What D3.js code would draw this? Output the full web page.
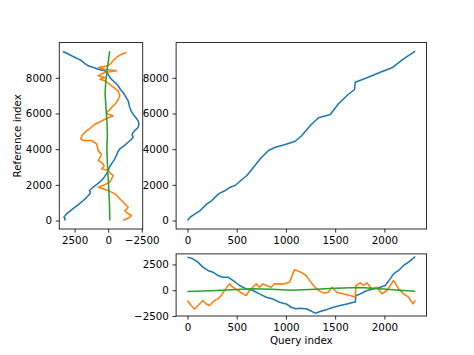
<!DOCTYPE html>
<html>
<head>
<meta charset="utf-8">
<script src="https://cdn.jsdelivr.net/npm/d3@7"></script>
<style>
  html, body { margin: 0; padding: 0; background: #fff; }
  svg { display: block; }
  text { font-family: "DejaVu Sans", sans-serif; fill: #000; }
</style>
</head>
<body>
<svg id="chart" width="474" height="355"></svg>
<script>
// ---------------- DATA ----------------
const queryLength = 2314;
const refLength = 9500;

// Reference signal (left panel): index and value pairs per channel
const refBlueIdx = [0, 90, 190, 374, 560, 748, 935, 1121, 1300, 1496, 1587, 1682, 1867, 2050, 2243, 2430, 2618, 2800, 3000, 3179, 3400, 3645, 3830, 4020, 4200, 4390, 4530, 4671, 4800, 4934, 5100, 5215, 5400, 5590, 5780, 5960, 6150, 6336, 6520, 6711, 6950, 7177, 7360, 7552, 7740, 7923, 8050, 8203, 8393, 8483, 8580, 8674, 8810, 8954, 9100, 9234, 9360, 9476];
const refBlueVal = [3250, 3200, 3300, 3094, 2800, 2473, 2150, 1855, 1600, 1360, 1335, 1400, 1113, 800, 495, 300, 124, 0, -100, -245, -450, -618, -700, -866, -1200, -1484, -1700, -1855, -1780, -1855, -2050, -2226, -2290, -2226, -2050, -1855, -1700, -1610, -1550, -1484, -1300, -1113, -900, -742, -500, -245, -100, 0, 245, 742, 1100, 1484, 1750, 1981, 2350, 2723, 3050, 3361];

const refOrangeIdx = [0, 140, 280, 420, 561, 650, 748, 840, 936, 1080, 1217, 1360, 1496, 1590, 1682, 1780, 1867, 2000, 2147, 2330, 2523, 2660, 2804, 2899, 3040, 3179, 3270, 3364, 3550, 3740, 3830, 3925, 4110, 4300, 4486, 4486, 4580, 4671, 4749, 4890, 5029, 5200, 5400, 5540, 5680, 5870, 5960, 6056, 6200, 6336, 6480, 6616, 6800, 6992, 7130, 7272, 7410, 7552, 7700, 7833, 7923, 8018, 8113, 8210, 8298, 8393, 8483, 8580, 8674, 8820, 8954, 9140, 9270, 9350, 9420];
const refOrangeVal = [-1113, -1500, -1731, -1400, -1236, -1400, -1484, -1350, -1236, -1050, -866, -700, -495, -250, 0, 400, 742, 300, -124, -250, -371, -150, 0, 495, 300, 371, 550, 742, 600, 495, 650, 742, 800, 866, 1236, 1855, 2050, 1979, 1979, 1800, 1608, 1300, 989, 600, 245, -371, 0, 124, -100, -245, -450, -618, -750, -866, -800, -742, -500, -245, 0, 245, 618, 245, 742, 500, 245, -618, 245, 742, 0, -200, -371, -618, -866, -1100, -1360];

const refGreenIdx = [0, 1000, 2000, 3000, 4000, 4800, 5500, 6300, 7100, 7800, 8600, 9500];
const refGreenVal = [-124, -90, -30, 50, 100, 60, 90, 160, 230, 180, 50, -110];

// Query signal (bottom panel)
const qBlueIdx = [0, 55, 106, 156, 207, 258, 309, 360, 410, 461, 528, 596, 664, 731, 800, 868, 935, 1003, 1054, 1100, 1150, 1213, 1297, 1348, 1416, 1483, 1551, 1620, 1687, 1704, 1711, 1755, 1823, 1890, 1958, 2009, 2059, 2093, 2144, 2195, 2245, 2313];
const qBlueVal = [3211, 3046, 2724, 2238, 1917, 1751, 1430, 1265, 1265, 944, 457, 126, -29, -360, -681, -846, -1168, -1333, -1654, -1800, -1750, -1820, -2230, -2073, -1878, -1654, -1489, -1333, -1168, -1168, -516, -360, -29, 126, 292, 457, 1100, 1586, 1917, 2403, 2724, 3250];

const qOrangeIdx = [0, 38, 71, 122, 156, 190, 224, 274, 309, 342, 376, 427, 461, 512, 563, 596, 630, 681, 698, 731, 766, 800, 850, 884, 969, 1036, 1087, 1152, 1206, 1229, 1280, 1331, 1382, 1433, 1467, 1518, 1585, 1653, 1704, 1711, 1755, 1788, 1823, 1873, 1924, 1975, 2026, 2059, 2093, 2144, 2195, 2245, 2290, 2313];
const qOrangeVal = [-1002, -1489, -1820, -1333, -1002, -1333, -1489, -1002, -846, -516, -29, 613, 292, -29, -360, -516, -29, 457, 613, 292, 613, 457, 292, 613, 613, 778, 2000, 1751, 1430, 1100, 457, -29, -263, -195, 292, -195, -360, -516, -681, 457, 710, 457, 710, 126, 292, -360, -29, 457, 944, 126, -360, -681, -1333, -1002];

const qGreenIdx = [0, 300, 650, 850, 1050, 1300, 1500, 1750, 1990, 2150, 2313];
const qGreenVal = [-120, -20, 140, 100, 0, 100, 195, 270, 126, 0, -97];

// Warping path (main panel)
const pathQuery = [0, 27, 78, 129, 197, 248, 315, 383, 434, 485, 553, 603, 671, 739, 823, 891, 993, 1094, 1162, 1247, 1331, 1450, 1534, 1620, 1697, 1704, 1823, 1958, 2077, 2195, 2313];
const pathRef   = [0, 187, 374, 561, 935, 1121, 1496, 1682, 1867, 1962, 2299, 2523, 2990, 3459, 3925, 4110, 4261, 4446, 4766, 5327, 5758, 5943, 6543, 7009, 7345, 7755, 8001, 8315, 8562, 9066, 9493];

const indexTicks = [0, 2000, 4000, 6000, 8000];
const queryTicks = [0, 500, 1000, 1500, 2000];
const valueTicks = [-2500, 0, 2500];

const colors = ["#1f77b4", "#ff7f0e", "#2ca02c"];

// ---------------- LAYOUT ----------------
const svg = d3.select("#chart");
const FS = 10.3, TICK = 3.6, PAD = 3.6, LW = 1.54, SPINE = 0.82;

const leftBox = {x0: 59.25, x1: 142.74, y0: 42.6, y1: 229.0};
const mainBox = {x0: 176.1, x1: 426.6, y0: 42.6, y1: 229.0};
const botBox  = {x0: 176.1, x1: 426.6, y0: 253.9, y1: 316.0};

function padded(ext) {
  const m = (ext[1] - ext[0]) * 0.05;
  return [ext[0] - m, ext[1] + m];
}
const fmt = d3.format("d");

const idxDomain = padded([0, refLength - 1]);
const qDomain = padded([0, queryLength - 1]);
const refValDomain = padded(d3.extent([...refBlueVal, ...refOrangeVal, ...refGreenVal]));
const qValDomain = padded(d3.extent([...qBlueVal, ...qOrangeVal, ...qGreenVal]));

// scales
const yIdx = d3.scaleLinear().domain(idxDomain).range([leftBox.y1, leftBox.y0]);
const xRefVal = d3.scaleLinear().domain([refValDomain[1], refValDomain[0]]).range([leftBox.x0, leftBox.x1]); // inverted
const xMain = d3.scaleLinear().domain(qDomain).range([mainBox.x0, mainBox.x1]);
const yMain = d3.scaleLinear().domain(idxDomain).range([mainBox.y1, mainBox.y0]);
const xBot = d3.scaleLinear().domain(qDomain).range([botBox.x0, botBox.x1]);
const yBot = d3.scaleLinear().domain(qValDomain).range([botBox.y1, botBox.y0]);

function styleAxis(g) {
  g.selectAll("path.domain").remove();
  g.selectAll(".tick line").attr("stroke", "#000").attr("stroke-width", SPINE);
  g.selectAll(".tick text").attr("font-size", FS).attr("font-family", "DejaVu Sans").attr("fill", "#000");
}

function drawAxes(box, xs, xt, ys, yt) {
  svg.append("g").attr("transform", `translate(0,${box.y1})`)
    .call(d3.axisBottom(xs).tickValues(xt).tickFormat(fmt).tickSize(TICK).tickPadding(PAD).tickSizeOuter(0))
    .call(styleAxis);
  svg.append("g").attr("transform", `translate(${box.x0},0)`)
    .call(d3.axisLeft(ys).tickValues(yt).tickFormat(fmt).tickSize(TICK).tickPadding(PAD).tickSizeOuter(0))
    .call(styleAxis);
}

function drawSeries(xs, ys, xArr, yArr, color) {
  const pts = xArr.map((d, i) => [d, yArr[i]]);
  svg.append("path")
    .datum(pts)
    .attr("fill", "none")
    .attr("stroke", color)
    .attr("stroke-width", LW)
    .attr("stroke-linejoin", "round")
    .attr("d", d3.line().x(d => xs(d[0])).y(d => ys(d[1])));
}

function drawSpines(box) {
  svg.append("rect")
    .attr("x", box.x0).attr("y", box.y0)
    .attr("width", box.x1 - box.x0).attr("height", box.y1 - box.y0)
    .attr("fill", "none").attr("stroke", "#000").attr("stroke-width", SPINE);
}

// Left panel: reference (vertical)
drawSeries(xRefVal, yIdx, refBlueVal, refBlueIdx, colors[0]);
drawSeries(xRefVal, yIdx, refOrangeVal, refOrangeIdx, colors[1]);
drawSeries(xRefVal, yIdx, refGreenVal, refGreenIdx, colors[2]);
drawAxes(leftBox, xRefVal, valueTicks, yIdx, indexTicks);
drawSpines(leftBox);

// Main panel: warping path
drawSeries(xMain, yMain, pathQuery, pathRef, colors[0]);
drawAxes(mainBox, xMain, queryTicks, yMain, indexTicks);
drawSpines(mainBox);

// Bottom panel: query
drawSeries(xBot, yBot, qBlueIdx, qBlueVal, colors[0]);
drawSeries(xBot, yBot, qOrangeIdx, qOrangeVal, colors[1]);
drawSeries(xBot, yBot, qGreenIdx, qGreenVal, colors[2]);
drawAxes(botBox, xBot, queryTicks, yBot, valueTicks);
drawSpines(botBox);

// Axis labels
svg.append("text")
  .attr("transform", `translate(20.5,${(leftBox.y0 + leftBox.y1) / 2}) rotate(-90)`)
  .attr("text-anchor", "middle")
  .attr("font-size", FS)
  .text("Reference index");

svg.append("text")
  .attr("x", (botBox.x0 + botBox.x1) / 2)
  .attr("y", 344)
  .attr("text-anchor", "middle")
  .attr("font-size", FS)
  .text("Query index");
</script>
</body>
</html>
